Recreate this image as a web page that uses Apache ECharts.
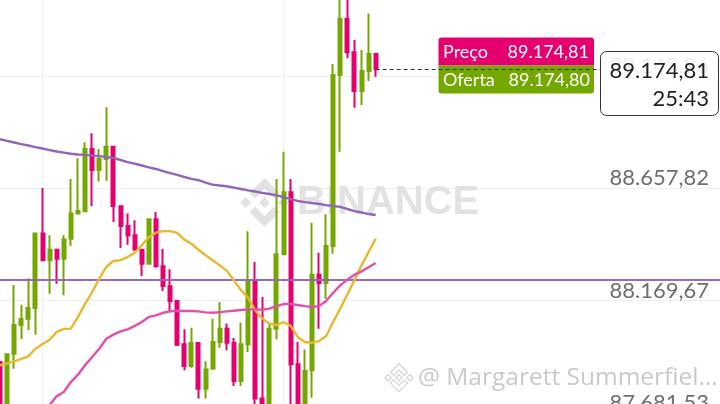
<!DOCTYPE html>
<html>
<head>
<meta charset="utf-8">
<style>html,body{margin:0;padding:0;background:#fff;overflow:hidden}#c{width:720px;height:404px}</style>
<script src="https://cdn.jsdelivr.net/npm/echarts@6/dist/echarts.min.js"></script>
</head>
<body>
<div id="c"></div>
<script>
// [open, close, low, high]
const candles = [
[87903,87673,87673,87903],[87686,87937,87686,87937],[87939,88064,87874,88238],[88064,88090,88003,88152],
[88091,88138,88042,88267],[88138,88461,88022,88461],[88461,88345,88342,88659],[88345,88391,88200,88454],
[88391,88352,88243,88394],[88352,88436,88193,88454],[88439,88548,88407,88698],[88548,88559,88548,88788],
[88558,88829,88558,88858],[88829,88737,88581,88897],[88737,88785,88687,88829],[88785,88839,88691,89010],
[88839,88581,88511,88839],[88580,88494,88398,88580],[88494,88454,88413,88548],[88454,88391,88391,88519],
[88391,88330,88277,88391],[88330,88523,88330,88523],[88523,88320,88313,88555],[88319,88233,88212,88395],
[88232,88168,88125,88306],[88168,87978,87973,88168],[87980,87886,87867,88045],[87886,87986,87878,88052],
[87986,87787,87744,87986],[87787,87871,87744,87906],[87874,87990,87874,88091],[87990,88048,87965,88164],
[88048,87987,87954,88070],[87986,87821,87799,88007],[87821,87980,87799,88074],[87980,88258,87947,88471],
[88258,87744,87673,88338],[87744,87660,87660,88186],[87660,88048,87660,88070],[88048,88371,88002,88698],
[88371,88641,88371,88817],[88641,87893,87660,88698],[87893,87660,87660,87990],[87660,87864,87660,87957],
[87867,88282,87748,88508],[88282,88246,88048,88378],[88246,88407,88178,88545],[88407,89150,88374,89198],
[89150,89394,88817,89476],[89394,89249,89223,89476],[89249,89081,89008,89302],[89081,89168,89020,89259],
[89168,89242,89124,89418],[89242,89174.81,89143,89242]
];
const maLong = [88871,88864,88857,88850,88844,88837,88831,88824,88818,88813,88808,88805,88803,88800,88798,88794,88790,88781,88772,88765,88757,88749,88742,88733,88724,88716,88707,88699,88693,88683,88674,88670,88667,88661,88655,88649,88644,88638,88633,88627,88620,88611,88603,88598,88594,88590,88585,88581,88577,88568,88559,88553,88546,88542];
const maFast = [87889,87897,87906,87917,87928,87961,87981,88000,88034,88047,88048,88099,88156,88207,88265,88316,88342,88346,88359,88378,88410,88446,88465,88472,88472,88464,88435,88417,88391,88367,88345,88323,88299,88258,88215,88183,88128,88091,88070,88063,88077,88060,88012,87990,87987,87994,88015,88077,88135,88196,88258,88323,88381,88439];
const maMid = [null,null,null,null,null,null,87686,87716,87755,87773,87816,87848,87889,87925,87961,88004,88022,88036,88045,88060,88077,88099,88106,88117,88123,88126,88125,88125,88123,88119,88117,88120,88123,88126,88129,88132,88132,88130,88135,88146,88155,88155,88151,88146,88142,88146,88168,88204,88236,88261,88282,88297,88315,88333];
const levelPrice = 88259.5;
const lastPrice = 89174.81;
const tickValues = [87681.53, 88169.67, 88657.82, 89145.96];
const tickLabels = ['87.681,53', '88.169,67', '88.657,82', '89.145,96'];
const slotCount = 103;
const gridSlots = [6, 40];
const categories = [];
for (let i = 0; i < slotCount; i++) categories.push(String(i));

const GREEN = '#74a700', PINK = '#e6006f';
const FONT = 'Lato, "Open Sans", sans-serif';

// Binance mark, unit outline on a 126.61 box
const markParts = [
  [[38.73,53.2],[63.3,28.63],[87.89,53.21],[102.2,38.91],[63.3,0],[24.42,38.9]],
  [[0,63.31],[14.3,49],[28.6,63.3],[14.3,77.6]],
  [[49,63.3],[63.3,49],[77.6,63.3],[63.3,77.6]],
  [[98,63.31],[112.3,49],[126.61,63.3],[112.3,77.61]],
  [[38.73,73.41],[63.3,97.98],[87.89,73.4],[102.2,87.7],[63.3,126.61],[24.42,87.71]]
];
function mark(cx, cy, r, style, z) {
  const k = r / 63.305;
  return markParts.map(p => ({
    type: 'polygon', silent: true, z: z,
    shape: { points: p.map(q => [cx + (q[0] - 63.305) * k, cy + (q[1] - 63.305) * k]) },
    style: style
  }));
}
function label(text, x, y, align, size, fill, z, weight, family) {
  return { type: 'text', silent: true, z: z, x: x, y: y,
    style: { text: text, textAlign: align, textVerticalAlign: 'middle', fill: fill,
      font: (weight || 'normal') + ' ' + size + 'px ' + (family || FONT) } };
}

const chart = echarts.init(document.getElementById('c'), null, { renderer: 'canvas' });
chart.setOption({
  animation: false,
  backgroundColor: '#fff',
  grid: { left: 0, right: -3, top: 0, bottom: -16, containLabel: false, outerBoundsMode: 'none' },
  xAxis: {
    type: 'category', data: categories, boundaryGap: false,
    axisLine: { show: false }, axisTick: { show: false }, axisLabel: { show: false },
    splitLine: { show: true, interval: (i) => gridSlots.includes(i), lineStyle: { color: '#efefef', width: 1 } }
  },
  yAxis: {
    type: 'value', position: 'right', min: 87651.1, max: 89476.2, scale: true,
    axisLine: { show: false },
    axisTick: { show: false, customValues: tickValues },
    axisLabel: {
      inside: true, margin: 14, customValues: tickValues, color: '#6e6e6e', fontSize: 22,
      fontFamily: 'Lato, "Open Sans", sans-serif', verticalAlign: 'bottom', lineHeight: 20,
      formatter: (v) => tickLabels[tickValues.indexOf(v)]
    },
    splitLine: { show: true, lineStyle: { color: '#efefef', width: 1 } }
  },
  series: [
    {
      type: 'candlestick', data: candles, barWidth: 3.5, z: 3,
      itemStyle: { color: GREEN, color0: PINK, borderColor: GREEN, borderColor0: PINK, borderWidth: 2 },
      markLine: {
        silent: true, symbol: 'none', label: { show: false }, animation: false,
        data: [[{ coord: ['53', lastPrice] }, { coord: ['85', lastPrice] }]],
        lineStyle: { color: '#333', type: [4, 3], width: 1 }
      }
    },
    {
      type: 'line', data: maLong, showSymbol: false, z: 5,
      lineStyle: { color: '#8f66b8', width: 2.4 },
      markLine: {
        silent: true, symbol: 'none', label: { show: false }, animation: false,
        data: [{ yAxis: levelPrice }],
        lineStyle: { color: '#9660c0', type: 'solid', width: 2, opacity: 0.95 }
      }
    },
    { type: 'line', data: maFast, showSymbol: false, z: 5, lineStyle: { color: '#e8b92e', width: 2.4 } },
    { type: 'line', data: maMid, showSymbol: false, z: 5, lineStyle: { color: '#e050ac', width: 2.4 } }
  ],
  graphic: [].concat(
    mark(264.5, 202.5, 24.5, { fill: '#e2e2e2' }, 1),
    [label('BINANCE', 297, 203, 'left', 40, '#e2e2e2', 1, 'bold', '"Liberation Sans", sans-serif')],
    mark(399, 377.7, 14, { fill: '#fff', stroke: '#d4d4d4', lineWidth: 1.2 }, 10),
    [label('@ Margarett Summerfiel...', 418, 378, 'left', 24.5, '#c9c9c9', 10, 'normal', '"Open Sans", sans-serif')],
    [
      { type: 'rect', silent: true, z: 1, shape: { x: 438.5, y: 37.5, width: 155.5, height: 28, r: [3, 3, 0, 0] }, style: { fill: PINK } },
      { type: 'rect', silent: true, z: 1, shape: { x: 438.5, y: 65.5, width: 155.5, height: 28, r: [0, 0, 3, 3] }, style: { fill: GREEN } },
      label('Preço', 443, 52, 'left', 18, '#fff', 2),
      label('89.174,81', 589, 52, 'right', 18, '#fff', 2),
      label('Oferta', 443, 80, 'left', 18, '#fff', 2),
      label('89.174,80', 590, 80, 'right', 18, '#fff', 2),
      { type: 'rect', silent: true, z: 20, shape: { x: 600.5, y: 51.5, width: 118, height: 64, r: 6 },
        style: { fill: 'rgba(255,255,255,0.88)', stroke: '#333', lineWidth: 1 } },
      label('89.174,81', 709, 71, 'right', 22, '#222', 21),
      label('25:43', 709, 99, 'right', 22, '#222', 21)
    ]
  )
});
</script>
</body>
</html>
